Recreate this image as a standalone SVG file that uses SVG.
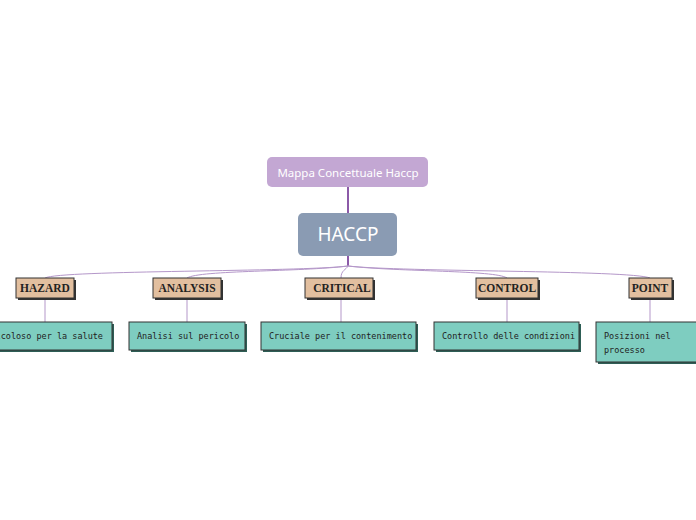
<svg xmlns="http://www.w3.org/2000/svg" width="696" height="520" viewBox="0 0 696 520">
<style>
.hd{fill:#e2bf9f;stroke:#333;stroke-width:1}
.hs{fill:#333}
.ht{font-family:"Liberation Serif",serif;font-weight:bold;font-size:11.5px;fill:#222;text-anchor:middle}
.lf{fill:#7ecdc0;stroke:#333;stroke-width:1}
.ls{fill:#2e5e56}
.lt{font-family:"DejaVu Sans Mono",monospace;font-size:8.5px;fill:#222}
.cn{fill:none;stroke:#b497c9;stroke-width:1}
</style>
<rect width="696" height="520" fill="#fff"/>
<g id="connectors">
<path d="M348 187 L348 213" stroke="#8c5aa8" stroke-width="2" fill="none"/>
<path d="M348 256 L348 266" stroke="#8c5aa8" stroke-width="2" fill="none"/>
<path class="cn" d="M348 266 C300 272 60 270 45 278"/>
<path class="cn" d="M348 266 C300 272 200 270 187 278"/>
<path class="cn" d="M348 266 C346 270 341 270 341 278"/>
<path class="cn" d="M348 266 C400 272 495 270 507 278"/>
<path class="cn" d="M348 266 C400 272 630 270 650 278"/>
<path class="cn" d="M45 298 V322 M187 298 V322 M341 298 V322 M507 298 V322 M650 298 V322"/>
</g>
<g id="root"><rect x="267" y="157" width="161" height="30" rx="5" fill="#c3a7d3"/><text x="348" y="177" text-anchor="middle" font-family="Noto Sans,sans-serif" font-size="11.5" fill="#fff">Mappa Concettuale Haccp</text></g>
<g id="haccp"><rect x="298" y="213" width="99" height="43" rx="5" fill="#8a9bb3"/><text x="348" y="241" text-anchor="middle" font-family="Noto Sans,sans-serif" font-size="19" fill="#fff">HACCP</text></g>
<g id="hazard"><rect class="hs" x="18" y="280" width="58" height="20"/><rect class="hd" x="16" y="278" width="58" height="20"/><text class="ht" x="45" y="292">HAZARD</text></g>
<g id="analysis"><rect class="hs" x="155" y="280" width="68" height="20"/><rect class="hd" x="153" y="278" width="68" height="20"/><text class="ht" x="187" y="292">ANALYSIS</text></g>
<g id="critical"><rect class="hs" x="307" y="280" width="68" height="20"/><rect class="hd" x="305" y="278" width="68" height="20"/><text class="ht" x="342" y="292">CRITICAL</text></g>
<g id="control"><rect class="hs" x="478" y="280" width="62" height="20"/><rect class="hd" x="476" y="278" width="62" height="20"/><text class="ht" x="507" y="292">CONTROL</text></g>
<g id="point"><rect class="hs" x="631" y="280" width="43" height="20"/><rect class="hd" x="629" y="278" width="43" height="20"/><text class="ht" x="650" y="292">POINT</text></g>
<g id="leaf1"><rect class="ls" x="-20" y="324" width="134" height="28"/><rect class="lf" x="-22" y="322" width="134" height="28"/><text class="lt" x="103" y="339" text-anchor="end">Pericoloso per la salute</text></g>
<g id="leaf2"><rect class="ls" x="131" y="324" width="116" height="28"/><rect class="lf" x="129" y="322" width="116" height="28"/><text class="lt" x="137" y="339">Analisi sul pericolo</text></g>
<g id="leaf3"><rect class="ls" x="263" y="324" width="155" height="28"/><rect class="lf" x="261" y="322" width="155" height="28"/><text class="lt" x="269" y="339">Cruciale per il contenimento</text></g>
<g id="leaf4"><rect class="ls" x="436" y="324" width="145" height="28"/><rect class="lf" x="434" y="322" width="145" height="28"/><text class="lt" x="442" y="339">Controllo delle condizioni</text></g>
<g id="leaf5"><rect class="ls" x="598" y="324" width="110" height="40"/><rect class="lf" x="596" y="322" width="110" height="40"/><text class="lt" x="604" y="339">Posizioni nel</text><text class="lt" x="604" y="353">processo</text></g>
</svg>
